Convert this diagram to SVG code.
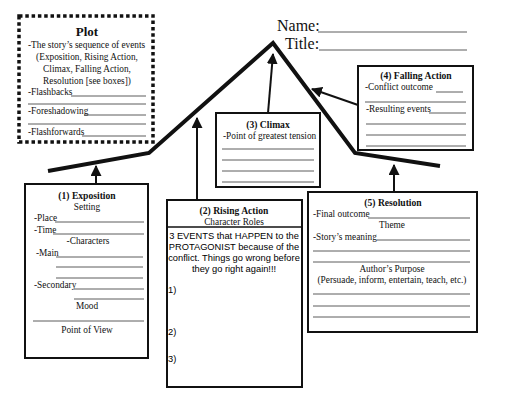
<svg xmlns="http://www.w3.org/2000/svg" width="508" height="405" viewBox="0 0 508 405">
<defs>
<style>
.t{font-family:"Liberation Serif","Times New Roman",serif;font-size:9.3px;fill:#111}
.c{text-anchor:middle}
.b{font-weight:bold;font-size:9.6px}
.s{font-family:"Liberation Sans",Arial,sans-serif;font-size:9.3px;fill:#000}
.box{fill:#fff;stroke:#111;stroke-width:2}
.ln{stroke:#333;stroke-width:0.8}
.ar{stroke:#111;stroke-width:2;fill:none}
</style>
<marker id="ah" viewBox="0 0 10 10" refX="9" refY="5" markerWidth="5.5" markerHeight="5.5" orient="auto" markerUnits="strokeWidth">
<path d="M0,0 L10,5 L0,10 z" fill="#111"/>
</marker>
</defs>
<rect width="508" height="405" fill="#fff"/>

<g id="header">
<text class="t" x="277" y="31" style="font-size:16px">Name:</text>
<line class="ln" x1="318" y1="32" x2="467" y2="32"/>
<text class="t" x="285" y="49" style="font-size:16px">Title:</text>
<line class="ln" x1="319" y1="50" x2="467" y2="50"/>
</g>

<g id="connectors">
<polyline points="48,171 149,153 273,43 355,153 440,166" fill="none" stroke="#111" stroke-width="4"/>
<line class="ar" x1="96" y1="184" x2="96" y2="166" marker-end="url(#ah)"/>
<line class="ar" x1="197" y1="200" x2="197" y2="118" marker-end="url(#ah)"/>
<line class="ar" x1="268" y1="113" x2="273" y2="54" marker-end="url(#ah)"/>
<line class="ar" x1="358" y1="105" x2="312" y2="89" marker-end="url(#ah)"/>
<line class="ar" x1="394" y1="192" x2="394" y2="165" marker-end="url(#ah)"/>
</g>

<g id="plot">
<rect x="19" y="16" width="134" height="126" fill="#fff" stroke="#111" stroke-width="3.5" stroke-dasharray="3.5 2.8"/>
<text class="t c b" x="87" y="36" style="font-size:13px">Plot</text>
<text class="t" x="28" y="48">-The story’s sequence of events</text>
<text class="t c" x="87" y="60">(Exposition, Rising Action,</text>
<text class="t c" x="87" y="72">Climax, Falling Action,</text>
<text class="t c" x="87" y="84">Resolution [see boxes])</text>
<text class="t" x="28" y="95">-Flashbacks</text>
<line class="ln" x1="71" y1="96" x2="146" y2="96"/>
<line class="ln" x1="28" y1="104" x2="146" y2="104"/>
<text class="t" x="28" y="114">-Foreshadowing</text>
<line class="ln" x1="84" y1="115" x2="146" y2="115"/>
<line class="ln" x1="28" y1="124" x2="146" y2="124"/>
<text class="t" x="28" y="135">-Flashforwards</text>
<line class="ln" x1="82" y1="136" x2="146" y2="136"/>
</g>

<g id="exposition">
<rect class="box" x="25" y="184" width="123" height="174"/>
<text class="t c b" x="87" y="199">(1) Exposition</text>
<text class="t c" x="87" y="210">Setting</text>
<text class="t" x="34" y="221">-Place</text>
<line class="ln" x1="55" y1="222" x2="144" y2="222"/>
<text class="t" x="34" y="233">-Time</text>
<line class="ln" x1="53" y1="234" x2="144" y2="234"/>
<text class="t c" x="88" y="244">-Characters</text>
<text class="t" x="36" y="256">-Main</text>
<line class="ln" x1="56" y1="257" x2="143" y2="257"/>
<line class="ln" x1="56" y1="267" x2="143" y2="267"/>
<line class="ln" x1="56" y1="278" x2="143" y2="278"/>
<text class="t" x="34" y="288">-Secondary</text>
<line class="ln" x1="74" y1="289" x2="144" y2="289"/>
<line class="ln" x1="74" y1="299" x2="144" y2="299"/>
<text class="t c" x="87" y="309">Mood</text>
<line class="ln" x1="33" y1="321" x2="144" y2="321"/>
<text class="t c" x="87" y="333">Point of View</text>
</g>

<g id="rising-action">
<rect class="box" x="167" y="200" width="135" height="187"/>
<line x1="167" y1="227" x2="302" y2="227" stroke="#111" stroke-width="1.5"/>
<text class="t c b" x="234" y="214">(2) Rising Action</text>
<text class="t c" x="234" y="225">Character Roles</text>
<text class="s c" x="234" y="239">3 EVENTS that HAPPEN to the</text>
<text class="s c" x="234" y="250">PROTAGONIST because of the</text>
<text class="s c" x="234" y="261">conflict. Things go wrong before</text>
<text class="s c" x="234" y="272">they go right again!!!</text>
<text class="s" x="168" y="293">1)</text>
<text class="s" x="168" y="335">2)</text>
<text class="s" x="168" y="362">3)</text>
</g>

<g id="climax">
<rect class="box" x="216" y="113" width="104" height="74"/>
<text class="t c b" x="268" y="128">(3) Climax</text>
<text class="t" x="223" y="139">-Point of greatest tension</text>
<line class="ln" x1="222" y1="149" x2="314" y2="149"/>
<line class="ln" x1="222" y1="160" x2="314" y2="160"/>
<line class="ln" x1="222" y1="171" x2="314" y2="171"/>
<line class="ln" x1="222" y1="182" x2="314" y2="182"/>
</g>

<g id="falling-action">
<rect class="box" x="358" y="66" width="115" height="84"/>
<text class="t c b" x="416" y="79">(4) Falling Action</text>
<text class="t" x="365" y="90">-Conflict outcome</text>
<line class="ln" x1="436" y1="92" x2="463" y2="92"/>
<line class="ln" x1="365" y1="102" x2="466" y2="102"/>
<text class="t" x="366" y="112">-Resulting events</text>
<line class="ln" x1="429" y1="113" x2="466" y2="113"/>
<line class="ln" x1="366" y1="124" x2="466" y2="124"/>
<line class="ln" x1="366" y1="135" x2="466" y2="135"/>
<line class="ln" x1="366" y1="146" x2="466" y2="146"/>
</g>

<g id="resolution">
<rect class="box" x="308" y="192" width="169" height="140"/>
<text class="t c b" x="393" y="206">(5) Resolution</text>
<text class="t" x="313" y="217">-Final outcome</text>
<line class="ln" x1="368" y1="218" x2="470" y2="218"/>
<text class="t c" x="392" y="228">Theme</text>
<text class="t" x="313" y="240">-Story’s meaning</text>
<line class="ln" x1="377" y1="240" x2="470" y2="240"/>
<line class="ln" x1="313" y1="251" x2="470" y2="251"/>
<line class="ln" x1="313" y1="262" x2="470" y2="262"/>
<text class="t c" x="392" y="272">Author’s Purpose</text>
<text class="t c" x="392" y="283">(Persuade, inform, entertain, teach, etc.)</text>
<line class="ln" x1="313" y1="294" x2="470" y2="294"/>
<line class="ln" x1="313" y1="306" x2="470" y2="306"/>
<line class="ln" x1="313" y1="317" x2="470" y2="317"/>
</g>
</svg>
